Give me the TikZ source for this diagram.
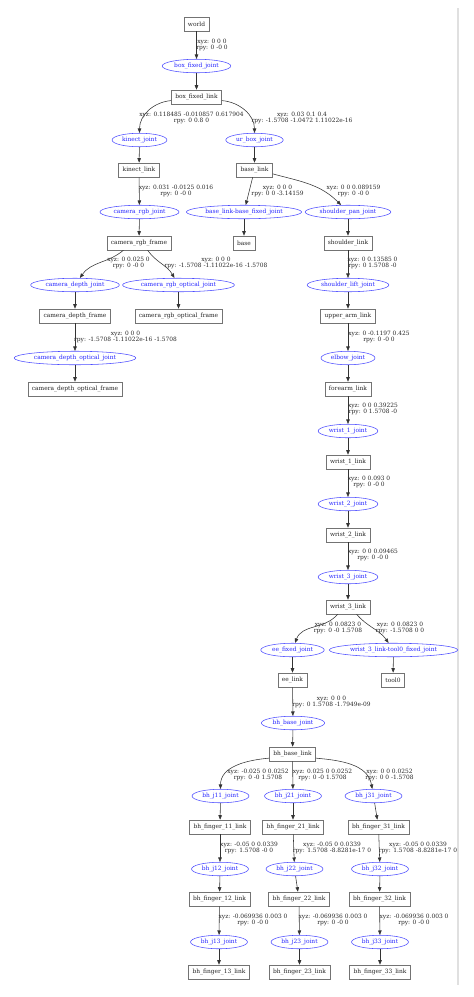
\documentclass[tikz,border=0pt]{standalone}
\usepackage{fontspec}
\setmainfont{DejaVu Serif}
\usetikzlibrary{shapes.geometric,arrows.meta}
\begin{document}
\begin{tikzpicture}[x=1pt,y=1pt,
  txt/.style={font=\fontsize{5.9}{6.3}\selectfont},
  link/.style={txt,draw=black!55,text=black!85,line width=0.55pt,rectangle,inner xsep=4pt,inner ysep=0pt,minimum height=14pt},
  joint/.style={txt,draw=blue!70,text=blue!85,ellipse,line width=0.55pt,inner xsep=2pt,inner ysep=0pt,minimum height=13.5pt},
  lbl/.style={txt,text=black!85,align=center,inner sep=0pt},
  edge/.style={draw=black!80,line width=0.55pt,-{Triangle[length=4.5pt,width=3.5pt]}}
]
\useasboundingbox (0,0) rectangle (474,-997);
\draw[draw=black!12,line width=1.5pt] (458,-8) -- (458,-985);

% links
\node[link] (world) at (196.5,-24) {world};
\node[link] (bfl) at (196.5,-97) {box\_fixed\_link};
\node[link] (kl) at (139,-170) {kinect\_link};
\node[link] (bl) at (254.5,-170) {base\_link};
\node[link] (crf) at (139,-243) {camera\_rgb\_frame};
\node[link] (base) at (244,-243) {base};
\node[link] (sl) at (348,-243) {shoulder\_link};
\node[link] (cdf) at (75,-316) {camera\_depth\_frame};
\node[link] (crof) at (178.5,-316) {camera\_rgb\_optical\_frame};
\node[link] (ual) at (348,-316) {upper\_arm\_link};
\node[link] (cdof) at (75,-389) {camera\_depth\_optical\_frame};
\node[link] (fl) at (348,-389) {forearm\_link};
\node[link] (w1l) at (348,-462) {wrist\_1\_link};
\node[link] (w2l) at (348,-535) {wrist\_2\_link};
\node[link] (w3l) at (348,-607) {wrist\_3\_link};
\node[link] (el) at (292.5,-680) {ee\_link};
\node[link] (tool0) at (393,-680) {tool0};
\node[link] (bbl) at (292.5,-754) {bh\_base\_link};
\node[link] (f11) at (220,-827) {bh\_finger\_11\_link};
\node[link] (f21) at (293,-827) {bh\_finger\_21\_link};
\node[link] (f31) at (378.5,-827) {bh\_finger\_31\_link};
\node[link] (f12) at (219.5,-899) {bh\_finger\_12\_link};
\node[link] (f22) at (299,-899) {bh\_finger\_22\_link};
\node[link] (f32) at (379.5,-899) {bh\_finger\_32\_link};
\node[link] (f13) at (219,-972) {bh\_finger\_13\_link};
\node[link] (f23) at (299.5,-972) {bh\_finger\_23\_link};
\node[link] (f33) at (380,-972) {bh\_finger\_33\_link};

% joints
\node[joint] (bfj) at (196.5,-66) {box\_fixed\_joint};
\node[joint] (kj) at (139.5,-140) {kinect\_joint};
\node[joint] (ubj) at (254.5,-140) {ur\_box\_joint};
\node[joint] (crj) at (139.5,-212) {camera\_rgb\_joint};
\node[joint] (blbfj) at (244,-212) {base\_link-base\_fixed\_joint};
\node[joint] (spj) at (348,-212) {shoulder\_pan\_joint};
\node[joint] (cdj) at (75,-285) {camera\_depth\_joint};
\node[joint] (croj) at (178.5,-285) {camera\_rgb\_optical\_joint};
\node[joint] (slj) at (348,-285) {shoulder\_lift\_joint};
\node[joint] (cdoj) at (75,-358) {camera\_depth\_optical\_joint};
\node[joint] (ej) at (348,-358) {elbow\_joint};
\node[joint] (w1j) at (348,-431) {wrist\_1\_joint};
\node[joint] (w2j) at (348,-504) {wrist\_2\_joint};
\node[joint] (w3j) at (348,-577) {wrist\_3\_joint};
\node[joint] (efj) at (292.5,-650) {ee\_fixed\_joint};
\node[joint] (w3tj) at (393.5,-650) {wrist\_3\_link-tool0\_fixed\_joint};
\node[joint] (bbj) at (293,-723) {bh\_base\_joint};
\node[joint] (j11) at (220.5,-796) {bh\_j11\_joint};
\node[joint] (j21) at (293,-796) {bh\_j21\_joint};
\node[joint] (j31) at (373.5,-796) {bh\_j31\_joint};
\node[joint] (j12) at (220,-869) {bh\_j12\_joint};
\node[joint] (j22) at (294.5,-869) {bh\_j22\_joint};
\node[joint] (j32) at (380,-869) {bh\_j32\_joint};
\node[joint] (j13) at (219,-942) {bh\_j13\_joint};
\node[joint] (j23) at (299.5,-942) {bh\_j23\_joint};
\node[joint] (j33) at (380,-942) {bh\_j33\_joint};

% edge labels
\node[lbl] (l1) at (212,-45) {xyz: 0 0 0\\rpy: 0 -0 0};
\node[lbl] (l2) at (191.5,-118) {xyz: 0.118485 -0.010857 0.617904\\rpy: 0 0.8 0};
\node[lbl] (l3) at (302,-118) {xyz: 0.03 0.1 0.4\\rpy: -1.5708 -1.0472 1.11022e-16};
\node[lbl] (l4) at (176,-191) {xyz: 0.031 -0.0125 0.016\\rpy: 0 -0 0};
\node[lbl] (l5) at (277.5,-191) {xyz: 0 0 0\\rpy: 0 0 -3.14159};
\node[lbl] (l6) at (353.5,-191) {xyz: 0 0 0.089159\\rpy: 0 -0 0};
\node[lbl] (l7) at (128.5,-263) {xyz: 0 0.025 0\\rpy: 0 -0 0};
\node[lbl] (l8) at (216,-263) {xyz: 0 0 0\\rpy: -1.5708 -1.11022e-16 -1.5708};
\node[lbl] (l9) at (372.5,-263) {xyz: 0 0.13585 0\\rpy: 0 1.5708 -0};
\node[lbl] (l10) at (125.5,-337) {xyz: 0 0 0\\rpy: -1.5708 -1.11022e-16 -1.5708};
\node[lbl] (l11) at (379,-337) {xyz: 0 -0.1197 0.425\\rpy: 0 -0 0};
\node[lbl] (l12) at (373,-409) {xyz: 0 0 0.39225\\rpy: 0 1.5708 -0};
\node[lbl] (l13) at (369,-482) {xyz: 0 0.093 0\\rpy: 0 -0 0};
\node[lbl] (l14) at (373,-555) {xyz: 0 0 0.09465\\rpy: 0 -0 0};
\node[lbl] (l15) at (338,-628) {xyz: 0 0.0823 0\\rpy: 0 -0 1.5708};
\node[lbl] (l16) at (400,-628) {xyz: 0 0.0823 0\\rpy: -1.5708 0 0};
\node[lbl] (l17) at (331.5,-702) {xyz: 0 0 0\\rpy: 0 1.5708 -1.7949e-09};
\node[lbl] (l18) at (258,-775) {xyz: -0.025 0 0.0252\\rpy: 0 -0 1.5708};
\node[lbl] (l19) at (322.5,-775) {xyz: 0.025 0 0.0252\\rpy: 0 -0 1.5708};
\node[lbl] (l20) at (389.5,-775) {xyz: 0 0 0.0252\\rpy: 0 0 -1.5708};
\node[lbl] (l21) at (249,-848) {xyz: -0.05 0 0.0339\\rpy: 1.5708 -0 0};
\node[lbl] (l22) at (332,-848) {xyz: -0.05 0 0.0339\\rpy: 1.5708 -8.8281e-17 0};
\node[lbl] (l23) at (418,-848) {xyz: -0.05 0 0.0339\\rpy: 1.5708 -8.8281e-17 0};
\node[lbl] (l24) at (253,-920) {xyz: -0.069936 0.003 0\\rpy: 0 -0 0};
\node[lbl] (l25) at (333,-920) {xyz: -0.069936 0.003 0\\rpy: 0 -0 0};
\node[lbl] (l26) at (414,-920) {xyz: -0.069936 0.003 0\\rpy: 0 -0 0};

% edges
\draw[edge] (world) -- (bfj);
\draw[edge] (bfj) -- (bfl);
\draw[edge] (bfl.188) to[out=185,in=90] (kj);
\draw[edge] (bfl.-8) to[out=-5,in=90] (ubj);
\draw[edge] (kj) -- (kl);
\draw[edge] (ubj) -- (bl);
\draw[edge] (kl) -- (crj);
\draw[edge] (bl) -- (blbfj);
\draw[edge] (bl.-12) to[out=-15,in=135] (spj);
\draw[edge] (crj) -- (crf);
\draw[edge] (blbfj) -- (base);
\draw[edge] (spj) -- (sl);
\draw[edge] (crf.-155) to[out=-140,in=55] (cdj);
\draw[edge] (crf.-40) to[out=-55,in=120] (croj);
\draw[edge] (sl) -- (slj);
\draw[edge] (cdj) -- (cdf);
\draw[edge] (croj) -- (crof);
\draw[edge] (slj) -- (ual);
\draw[edge] (cdf) -- (cdoj);
\draw[edge] (ual) -- (ej);
\draw[edge] (cdoj) -- (cdof);
\draw[edge] (ej) -- (fl);
\draw[edge] (fl) -- (w1j);
\draw[edge] (w1j) -- (w1l);
\draw[edge] (w1l) -- (w2j);
\draw[edge] (w2j) -- (w2l);
\draw[edge] (w2l) -- (w3j);
\draw[edge] (w3j) -- (w3l);
\draw[edge] (w3l.-145) to[out=-130,in=70] (efj);
\draw[edge] (w3l.-40) to[out=-50,in=125] (w3tj);
\draw[edge] (efj) -- (el);
\draw[edge] (w3tj) -- (tool0);
\draw[edge] (el) -- (bbj);
\draw[edge] (bbj) -- (bbl);
\draw[edge] (bbl.190) to[out=185,in=90] (j11);
\draw[edge] (bbl) -- (j21);
\draw[edge] (bbl.-10) to[out=-5,in=100] (j31);
\draw[edge] (j11) -- (f11);
\draw[edge] (j21) -- (f21);
\draw[edge] (j31) -- (f31);
\draw[edge] (f11) -- (j12);
\draw[edge] (f21) -- (j22);
\draw[edge] (f31) -- (j32);
\draw[edge] (j12) -- (f12);
\draw[edge] (j22) -- (f22);
\draw[edge] (j32) -- (f32);
\draw[edge] (f12) -- (j13);
\draw[edge] (f22) -- (j23);
\draw[edge] (f32) -- (j33);
\draw[edge] (j13) -- (f13);
\draw[edge] (j23) -- (f23);
\draw[edge] (j33) -- (f33);
\end{tikzpicture}
\end{document}
